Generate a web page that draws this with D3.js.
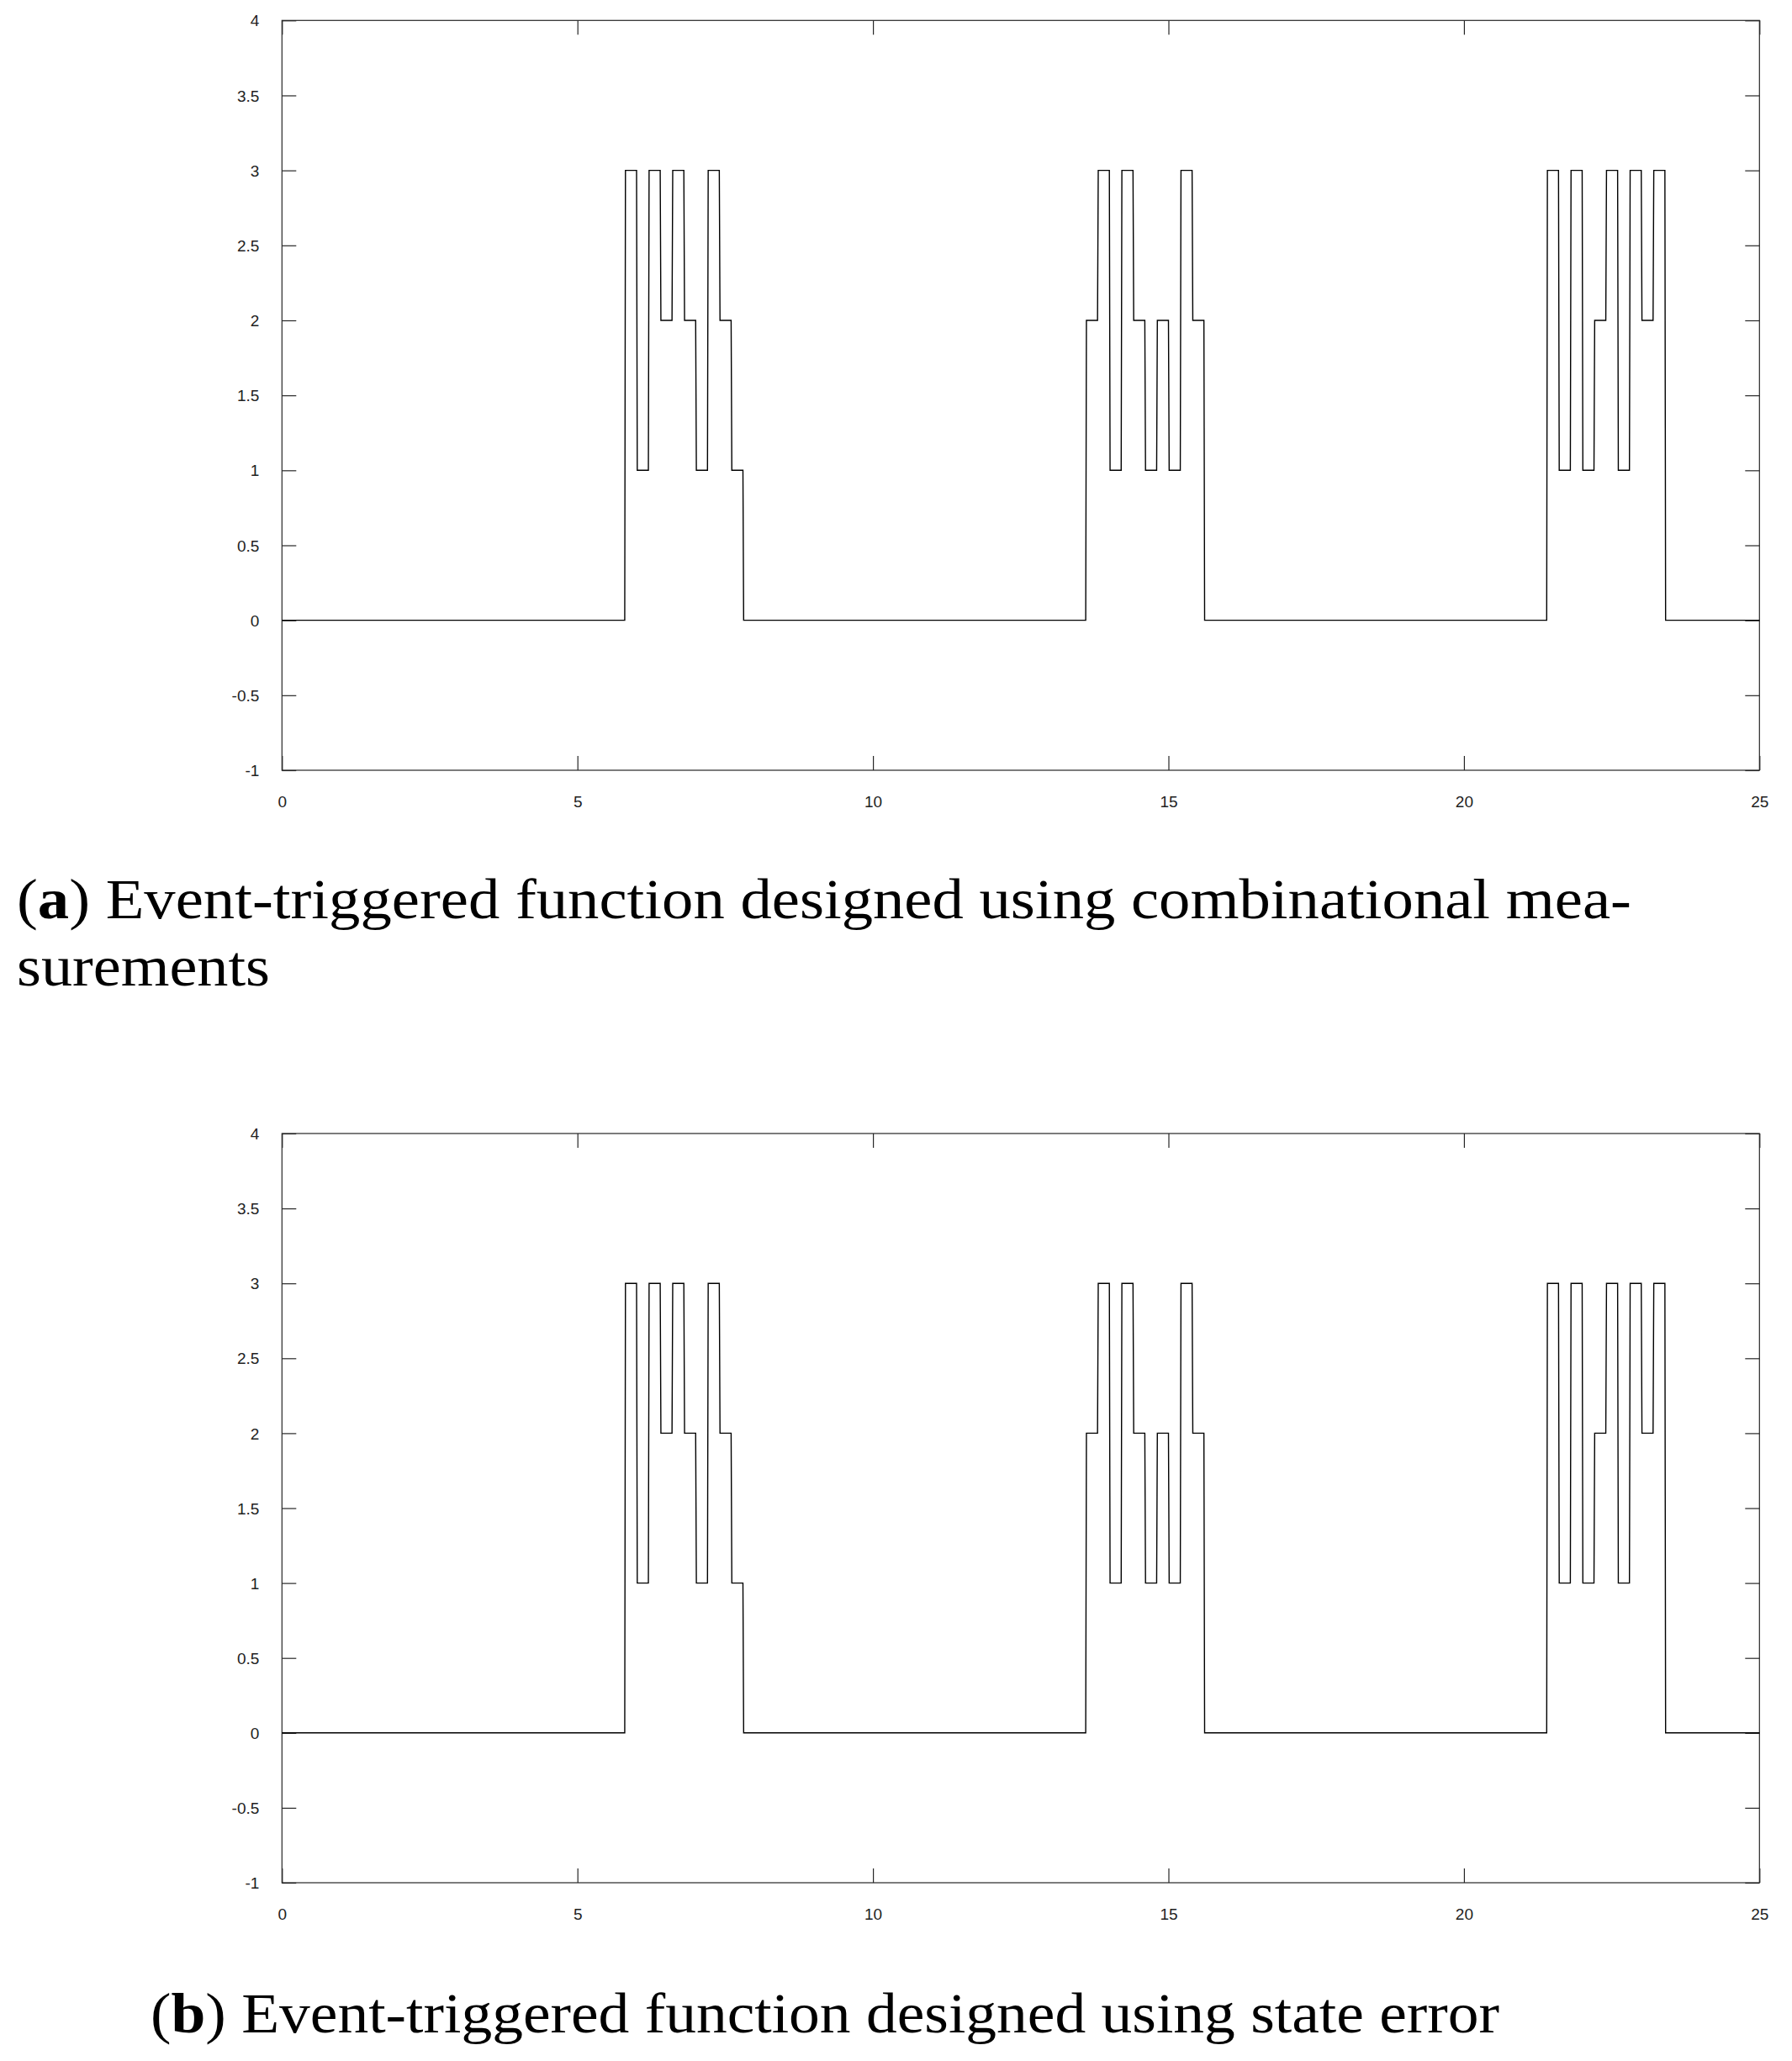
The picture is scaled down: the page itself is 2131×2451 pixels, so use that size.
<!DOCTYPE html>
<html>
<head>
<meta charset="utf-8">
<script src="https://cdn.jsdelivr.net/npm/d3@7"></script>
<style>
  html, body { margin: 0; padding: 0; background: #fff; }
  svg { display: block; }
</style>
</head>
<body>
<script>
// ---- data ----
// breakpoint times where the event-triggered function changes level
const breakTimes = [0,
  5.8, 6.0, 6.2, 6.4, 6.6, 6.8, 7.0, 7.2, 7.4, 7.6, 7.8,
  13.6, 13.8, 14.0, 14.2, 14.4, 14.6, 14.8, 15.0, 15.2, 15.4, 15.6,
  21.4, 21.6, 21.8, 22.0, 22.2, 22.4, 22.6, 22.8, 23.0, 23.2, 23.4];
// level held from each breakpoint until the next one
const levelsA = [0,
  3, 1, 3, 2, 3, 2, 1, 3, 2, 1, 0,
  2, 3, 1, 3, 2, 1, 2, 1, 3, 2, 0,
  3, 1, 3, 1, 2, 3, 1, 3, 2, 3, 0];
const levelsB = [0,
  3, 1, 3, 2, 3, 2, 1, 3, 2, 1, 0,
  2, 3, 1, 3, 2, 1, 2, 1, 3, 2, 0,
  3, 1, 3, 1, 2, 3, 1, 3, 2, 3, 0];
const tEnd = 25;
const xTicks = [0, 5, 10, 15, 20, 25];
const yTicks = [-1, -0.5, 0, 0.5, 1, 1.5, 2, 2.5, 3, 3.5, 4];
const captionA1 = ["(", "a", ") Event-triggered function designed using combinational mea-"];
const captionA2 = "surements";
const captionB = ["(", "b", ") Event-triggered function designed using state error"];

// ---- layout ----
const W = 2131, H = 2451;
const svg = d3.select("body").append("svg").attr("width", W).attr("height", H);
svg.append("rect").attr("width", W).attr("height", H).attr("fill", "#fff");

const left = 335.3, right = 2092.3;
const panels = [
  { top: 24.3, bottom: 916, levels: levelsA },
  { top: 1348, bottom: 2239, levels: levelsB }
];
const tickLen = 17;
const ramp = 0.012;
const axisColor = "#262626";

panels.forEach(p => {
  const x = d3.scaleLinear().domain([0, 25]).range([left, right]);
  const y = d3.scaleLinear().domain([-1, 4]).range([p.bottom, p.top]);
  const g = svg.append("g");

  // frame
  g.append("rect")
    .attr("x", left).attr("y", p.top)
    .attr("width", right - left).attr("height", p.bottom - p.top)
    .attr("fill", "none").attr("stroke", axisColor).attr("stroke-width", 1.2);

  // axes (inward ticks on all four sides)
  const fmt = d => String(d);
  const axB = g.append("g").attr("transform", `translate(0,${p.bottom})`)
    .call(d3.axisBottom(x).tickValues(xTicks).tickSize(-tickLen).tickPadding(tickLen + 14).tickFormat(fmt));
  const axT = g.append("g").attr("transform", `translate(0,${p.top})`)
    .call(d3.axisTop(x).tickValues(xTicks).tickSize(-tickLen).tickFormat(""));
  const axL = g.append("g").attr("transform", `translate(${left},0)`)
    .call(d3.axisLeft(y).tickValues(yTicks).tickSize(-tickLen).tickPadding(tickLen + 10).tickFormat(fmt));
  const axR = g.append("g").attr("transform", `translate(${right},0)`)
    .call(d3.axisRight(y).tickValues(yTicks).tickSize(-tickLen).tickFormat(""));
  [axB, axT, axL, axR].forEach(a => {
    a.select(".domain").remove();
    a.selectAll(".tick line").attr("stroke", axisColor).attr("stroke-width", 1.2);
    a.selectAll(".tick text")
      .attr("fill", "#222")
      .style("font-family", "'Liberation Sans', Arial, sans-serif")
      .style("font-size", "19px");
  });
  // hide end ticks that coincide with the frame
  axB.selectAll(".tick text").attr("dy", "0.71em");
  axL.selectAll(".tick text").attr("dy", "0.35em");

  // step signal
  const pts = [];
  for (let i = 0; i < breakTimes.length; i++) {
    const t0 = breakTimes[i] + (i === 0 ? 0 : ramp);
    const t1 = i + 1 < breakTimes.length ? breakTimes[i + 1] : tEnd;
    pts.push([t0, p.levels[i]]);
    pts.push([t1, p.levels[i]]);
  }
  const line = d3.line().x(d => x(d[0])).y(d => y(d[1])).curve(d3.curveLinear);
  g.append("path").datum(pts)
    .attr("d", line)
    .attr("fill", "none").attr("stroke", "#000").attr("stroke-width", 1.4)
    .attr("stroke-linejoin", "miter");
});

// ---- captions ----
function caption(parts, xStart, baseline, width) {
  const t = svg.append("text")
    .attr("x", xStart).attr("y", baseline)
    .attr("fill", "#000")
    .style("font-family", "'Liberation Serif', 'DejaVu Serif', serif")
    .style("font-size", "68px");
  if (Array.isArray(parts)) {
    t.append("tspan").text(parts[0]);
    t.append("tspan").attr("font-weight", "bold").text(parts[1]);
    t.append("tspan").text(parts[2]);
  } else {
    t.text(parts);
  }
  if (width) t.attr("textLength", width).attr("lengthAdjust", "spacingAndGlyphs");
  return t;
}
caption(captionA1, 20, 1092, 1920);
caption(captionA2, 20, 1172, 301);
caption(captionB, 179, 2417, 1604);
</script>
</body>
</html>
